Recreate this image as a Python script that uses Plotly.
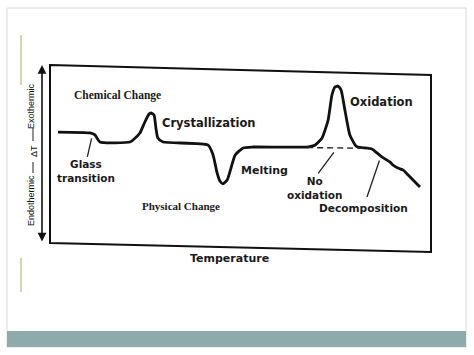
import plotly.graph_objects as go

# ---- data (temperature in arbitrary units 0-100, delta T in arbitrary units 0-100) ----
temperature = [2.1, 10.5, 11.8, 13.1, 21.0, 21.8, 23.6, 24.9, 26.0, 26.5, 27.3, 27.8, 28.3, 29.7,
               41.5, 42.8, 43.8, 44.6, 45.4, 46.5, 47.5, 48.6, 50.7, 53.3,
               67.5, 69.6, 71.4, 73.0, 74.0, 74.8, 75.6, 76.4, 77.4, 78.7, 80.1, 80.8,
               84.5, 85.8, 87.1, 89.2, 90.0, 91.3, 92.7, 94.0, 95.8, 97.1]
delta_t = [64.4, 63.9, 62.8, 58.9, 58.9, 60.0, 63.9, 70.0, 74.4, 75.0, 73.9, 66.7, 61.1, 58.9,
           57.2, 51.7, 42.2, 37.2, 35.6, 37.8, 44.4, 51.7, 55.6, 56.1,
           56.1, 57.2, 61.1, 71.1, 85.0, 89.4, 90.0, 87.8, 76.7, 62.8, 57.2, 56.1,
           55.0, 52.8, 50.6, 47.8, 46.1, 44.4, 43.3, 40.6, 36.7, 33.9]
baseline_temp = [67.5, 83.5]
baseline_dt = [55.8, 55.4]

W, H = 474, 355
L, R, T, B = 50, 431, 68, 248


def px(x):
    return (x - L) / (R - L)


def py(y):
    return (B - y) / (B - T)


fig = go.Figure()
fig.add_trace(go.Scatter(x=temperature, y=delta_t, mode="lines",
                         line=dict(color="#111111", width=2.8, shape="spline", smoothing=0.5),
                         hoverinfo="skip", showlegend=False))
fig.add_trace(go.Scatter(x=baseline_temp, y=baseline_dt, mode="lines",
                         line=dict(color="#222222", width=1.4, dash="6px,4px"),
                         hoverinfo="skip", showlegend=False))

shapes = []
# slide border
shapes.append(dict(type="rect", xref="paper", yref="paper", x0=px(7), x1=px(466), y0=py(347), y1=py(8),
                   line=dict(color="#DADADA", width=1), fillcolor="rgba(0,0,0,0)", layer="below"))
# teal footer bar
shapes.append(dict(type="rect", xref="paper", yref="paper", x0=px(7), x1=px(466), y0=py(347), y1=py(331),
                   line=dict(width=0), fillcolor="#8FAAAB", layer="below"))
# decorative olive lines
for y0, y1 in [(35, 85), (258, 292)]:
    shapes.append(dict(type="line", xref="paper", yref="paper", x0=px(21), x1=px(21), y0=py(y0), y1=py(y1),
                       line=dict(color="#D5D5B2", width=2)))
# chart frame (slightly skewed like the scan)
path = "M {},{} L {},{} L {},{} L {},{} Z".format(px(50), py(65), px(431), py(75), px(431), py(252), px(50), py(243))
shapes.append(dict(type="path", xref="paper", yref="paper", path=path,
                   line=dict(color="#111111", width=2), fillcolor="rgba(0,0,0,0)"))
# dashes in rotated y label
for y0, y1 in [(128, 141), (162, 173)]:
    shapes.append(dict(type="line", xref="paper", yref="paper", x0=px(33), x1=px(33), y0=py(y0), y1=py(y1),
                       line=dict(color="#222222", width=1)))

annotations = []
# double-headed y arrow
annotations.append(dict(xref="x domain", yref="y domain", x=px(42), y=py(65), ax=px(42), ay=py(243),
                        axref="x domain", ayref="y domain", text="", showarrow=True,
                        arrowhead=2, arrowside="end+start", arrowsize=1.1, arrowwidth=1.6, arrowcolor="#111111"))

narrow = "Liberation Sans, Arial, sans-serif"
for txt, yy, xx in [("Exothermic", 106, 31), ("ΔT", 151, 34), ("Endothermic", 201, 31)]:
    annotations.append(dict(xref="paper", yref="paper", x=px(xx), y=py(yy), text=txt, showarrow=False,
                            textangle=-90, font=dict(family=narrow, size=9, color="#111111"),
                            xanchor="center", yanchor="middle"))

sans = "DejaVu Sans, sans-serif"
serif = "Liberation Serif, Times New Roman, serif"

def lab(text, x, y, anchor="center", family=sans, size=11, bold=True):
    annotations.append(dict(x=x, y=y, xref="x", yref="y",
                            text="<br>".join("<b>%s</b>" % t for t in text.split("\n")) if bold else text,
                            showarrow=False, xanchor=anchor, yanchor="middle", align="center",
                            font=dict(family=family, size=size, color="#1a1a1a")))

lab("Chemical Change", 17.6, 85.0, family=serif, size=11.5)
lab("Physical Change", 34.4, 23.3, family=serif, size=11)
lab("Crystallization", 28.9, 69.4, anchor="left", size=11.5)
lab("Oxidation", 78.2, 81.1, anchor="left", size=11.5)
lab("Glass\ntransition", 9.4, 42.8, size=10.5)
lab("Melting", 49.6, 42.8, anchor="left", size=11)
lab("No\noxidation", 69.6, 33.3, size=10.5)
lab("Decomposition", 82.2, 22.2, size=10.6)

# leader lines
for x0, y0, x1, y1 in [(11.0, 61.7, 9.8, 50.6), (74.8, 53.9, 70.4, 41.5), (86.6, 49.4, 83.2, 28.3)]:
    annotations.append(dict(x=x1, y=y1, ax=x0, ay=y0, xref="x", yref="y", axref="x", ayref="y",
                            text="", showarrow=True, arrowhead=0, arrowwidth=1.3, arrowcolor="#222222"))

annotations.append(dict(xref="paper", yref="paper", x=px(229), y=py(258), text="<b>Temperature</b>",
                        showarrow=False, xanchor="center", yanchor="middle",
                        font=dict(family=sans, size=11, color="#1a1a1a")))

fig.update_layout(
    width=W, height=H,
    margin=dict(l=L, r=W - R, t=T, b=H - B),
    paper_bgcolor="white", plot_bgcolor="rgba(0,0,0,0)",
    xaxis=dict(range=[0, 100], visible=False, fixedrange=True),
    yaxis=dict(range=[0, 100], visible=False, fixedrange=True),
    shapes=shapes, annotations=annotations, showlegend=False,
)

fig.write_html("out.html", config={"displayModeBar": False},
               post_script="document.body.style.margin='0px';document.body.style.overflow='hidden';")
